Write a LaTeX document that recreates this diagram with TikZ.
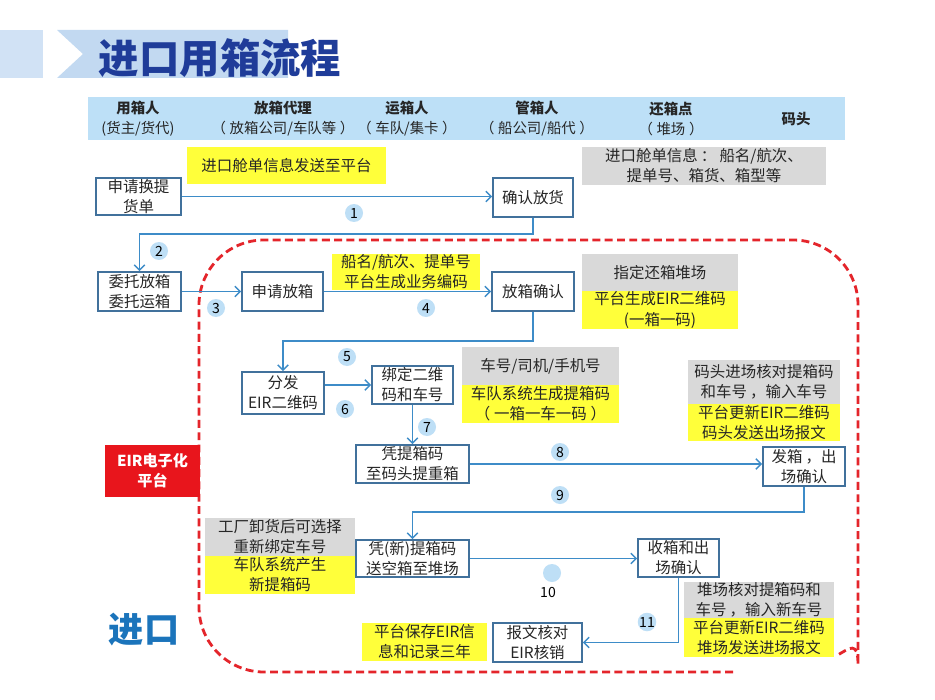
\documentclass[tikz,border=0pt]{standalone}
\usepackage{fontspec}
\setmainfont{Noto Sans CJK SC}
\usetikzlibrary{arrows.meta}

\definecolor{boxblue}{HTML}{41719C}
\definecolor{flowblue}{HTML}{3D8CC8}
\definecolor{headblue}{HTML}{BDE0F7}
\definecolor{bannerblue}{HTML}{C2D9F1}
\definecolor{titleblue}{HTML}{1F3C99}
\definecolor{notegray}{HTML}{D9D9D9}
\definecolor{noteyellow}{HTML}{FFFF3A}
\definecolor{numblue}{HTML}{BEDFF6}
\definecolor{eirred}{HTML}{E8151C}
\definecolor{dashred}{HTML}{E4252B}
\definecolor{importblue}{HTML}{1B74BB}

\newcommand{\lpar}{（\hspace{0.25em}}
\newcommand{\rpar}{\hspace{0.25em}）}

\tikzset{
  txt/.style={font=\fontsize{8.8}{11.4}\selectfont, align=center, inner sep=0pt, text=black!85},
  headtxt/.style={font=\fontsize{8.2}{11.4}\selectfont, align=center, inner sep=0pt, text=black!85},
  stepbox/.style={txt, draw=boxblue, line width=1pt, fill=white},
  graynote/.style={txt, fill=notegray},
  yellownote/.style={txt, fill=noteyellow},
  num/.style={circle, fill=numblue, minimum size=0.36cm, inner sep=0pt, font=\fontsize{8}{8}\selectfont},
  flow/.style={->, draw=flowblue, line width=0.8pt},
  reddash/.style={draw=dashred, line width=1.6pt, dash pattern=on 4.5pt off 2.5pt},
}

\begin{document}
\begin{tikzpicture}[x=0.02cm, y=-0.02cm, >={Straight Barb[length=3pt,width=6pt]}]
    \useasboundingbox (0,0) rectangle (935,699);
    \fill[white] (0,0) rectangle (935,699);

    % Title banner
    \fill[bannerblue!75] (0,30) rectangle (43,78);
    \fill[bannerblue] (57,30) -- (288,30) -- (288,78) -- (57,78) -- (83,54) -- cycle;
    \node[font=\fontsize{23}{23}\selectfont\bfseries, text=titleblue] (title) at (220,58) {进口用箱流程};

    % Header band with the roles
    \fill[headblue] (88,97) rectangle (845,140);
    \node[headtxt] (h1) at (138,119) {\textbf{用箱人}\\(货主/货代)};
    \node[headtxt] (h2) at (283,119) {\textbf{放箱代理}\\\lpar 放箱公司/车队等\rpar};
    \node[headtxt] (h3) at (407,119) {\textbf{运箱人}\\\lpar 车队/集卡\rpar};
    \node[headtxt] (h4) at (537,119) {\textbf{管箱人}\\\lpar 船公司/船代\rpar};
    \node[headtxt] (h5) at (671,119) {\textbf{还箱点}\\\lpar 堆场\rpar};
    \node[headtxt, font=\fontsize{8.2}{11.4}\selectfont\bfseries] (h6) at (796,119) {码头};

    % EIR platform frame
    \draw[reddash, rounded corners=1.3cm] (733,672) -| (199,240) -| (858,600)
        .. controls (858,640) and (850,648) .. (836,656);
    \node[txt, fill=eirred, text=white, font=\fontsize{8.6}{11.4}\selectfont\bfseries,
          minimum width=1.9cm, minimum height=1.04cm] (eir) at (152.5,471) {EIR电子化\\平台};
    \node[font=\fontsize{20}{20}\selectfont\bfseries, text=importblue] (imp) at (144,630) {进口};

    % Notes
    \node[yellownote, minimum width=3.98cm, minimum height=0.74cm] (n1) at (286.5,165.5) {进口舱单信息发送至平台};
    \node[graynote, minimum width=4.88cm, minimum height=0.76cm] (g1) at (704,166) {进口舱单信息\hspace{0.2em}：\hspace{0.2em}船名/航次、\\提单号、箱货、箱型等};
    \node[yellownote, minimum width=2.96cm, minimum height=0.72cm] (y4) at (406,272) {船名/航次、提单号\\平台生成业务编码};
    \node[graynote, minimum width=3.12cm, minimum height=0.74cm] (g5) at (660,272.5) {指定还箱堆场};
    \node[yellownote, minimum width=3.12cm, minimum height=0.76cm] (y5) at (660,310) {平台生成EIR二维码\\(一箱一码)};
    \node[graynote, minimum width=3.14cm, minimum height=0.76cm] (g7) at (540.5,366) {车号/司机/手机号};
    \node[yellownote, minimum width=3.14cm, minimum height=0.76cm] (y7) at (540.5,404) {车队系统生成提箱码\\\lpar 一箱一车一码\rpar};
    \node[graynote, minimum width=3.04cm, minimum height=0.88cm] (g8) at (764,382) {码头进场核对提箱码\\和车号\hspace{0.2em}，输入车号};
    \node[yellownote, minimum width=3.04cm, minimum height=0.74cm] (y8) at (764,422.5) {平台更新EIR二维码\\码头发送出场报文};
    \node[graynote, minimum width=3.0cm, minimum height=0.76cm] (g10) at (280,537) {工厂卸货后可选择\\重新绑定车号};
    \node[yellownote, minimum width=3.0cm, minimum height=0.76cm] (y10) at (280,575) {车队系统产生\\新提箱码};
    \node[yellownote, minimum width=2.5cm, minimum height=0.76cm] (y12) at (424.5,642) {平台保存EIR信\\息和记录三年};
    \node[graynote, minimum width=3.0cm, minimum height=0.72cm] (g11) at (759,600) {堆场核对提箱码和\\车号\hspace{0.2em}，输入新车号};
    \node[yellownote, minimum width=3.0cm, minimum height=0.78cm] (y11) at (759,637.5) {平台更新EIR二维码\\堆场发送进场报文};

    % Steps
    \node[stepbox, minimum width=1.70cm, minimum height=0.74cm] (b1) at (138.5,196.5) {申请换提\\货单};
    \node[stepbox, minimum width=1.60cm, minimum height=0.78cm] (b2) at (533,197.5) {确认放货};
    \node[stepbox, minimum width=1.66cm, minimum height=0.78cm] (b3) at (139.5,291.5) {委托放箱\\委托运箱};
    \node[stepbox, minimum width=1.62cm, minimum height=0.78cm] (b4) at (282.5,291.5) {申请放箱};
    \node[stepbox, minimum width=1.64cm, minimum height=0.78cm] (b5) at (533,291.5) {放箱确认};
    \node[stepbox, minimum width=1.64cm, minimum height=0.84cm] (b6) at (283,393) {分发\\EIR二维码};
    \node[stepbox, minimum width=1.62cm, minimum height=0.76cm] (b7) at (412.5,385) {绑定二维\\码和车号};
    \node[stepbox, minimum width=2.26cm, minimum height=0.76cm] (b8) at (412.5,464) {凭提箱码\\至码头提重箱};
    \node[stepbox, minimum width=1.64cm, minimum height=0.78cm] (b9) at (804,466.5) {发箱\hspace{0.2em}，出\\场确认};
    \node[stepbox, minimum width=2.26cm, minimum height=0.74cm] (b10) at (412.5,558.5) {凭(新)提箱码\\送空箱至堆场};
    \node[stepbox, minimum width=1.62cm, minimum height=0.76cm] (b11) at (678.5,558) {收箱和出\\场确认};
    \node[stepbox, minimum width=1.78cm, minimum height=0.78cm] (b12) at (537.5,642.5) {报文核对\\EIR核销};

    % Arrows
    \draw[flow] (b1.east) -- (b1.east -| b2.west);
    \draw[flow] (b2.south) -- ++(0,16) -| (b3.north);
    \draw[flow] (b3) -- (b4);
    \draw[flow] (b4) -- (b5);
    \draw[flow] (b5.south) -- ++(0,29) -| (b6.north);
    \draw[flow] (b6.east |- b7.west) -- (b7.west);
    \draw[flow] (b7) -- (b8);
    \draw[flow] (b8.east) -- (b8.east -| b9.west);
    \draw[flow] (b9.south) -- ++(0,25) -| (b10.north);
    \draw[flow] (b10.east) -- (b10.east -| b11.west);
    \draw[flow] (b11.south) |- (b12.east);

    % Step numbers
    \node[num] (c1) at (354,213) {1};
    \node[num] (c2) at (159,251) {2};
    \node[num] (c3) at (216,308) {3};
    \node[num] (c4) at (426,308) {4};
    \node[num] (c5) at (347,357) {5};
    \node[num] (c6) at (345,409) {6};
    \node[num] (c7) at (427,427) {7};
    \node[num] (c8) at (560,452) {8};
    \node[num] (c9) at (560,495) {9};
    \node[num] (c10) at (552,573) {};
    \node[font=\fontsize{8}{8}\selectfont] (l10) at (548,592) {10};
    \node[num] (c11) at (647,622) {11};

\end{tikzpicture}
\end{document}
